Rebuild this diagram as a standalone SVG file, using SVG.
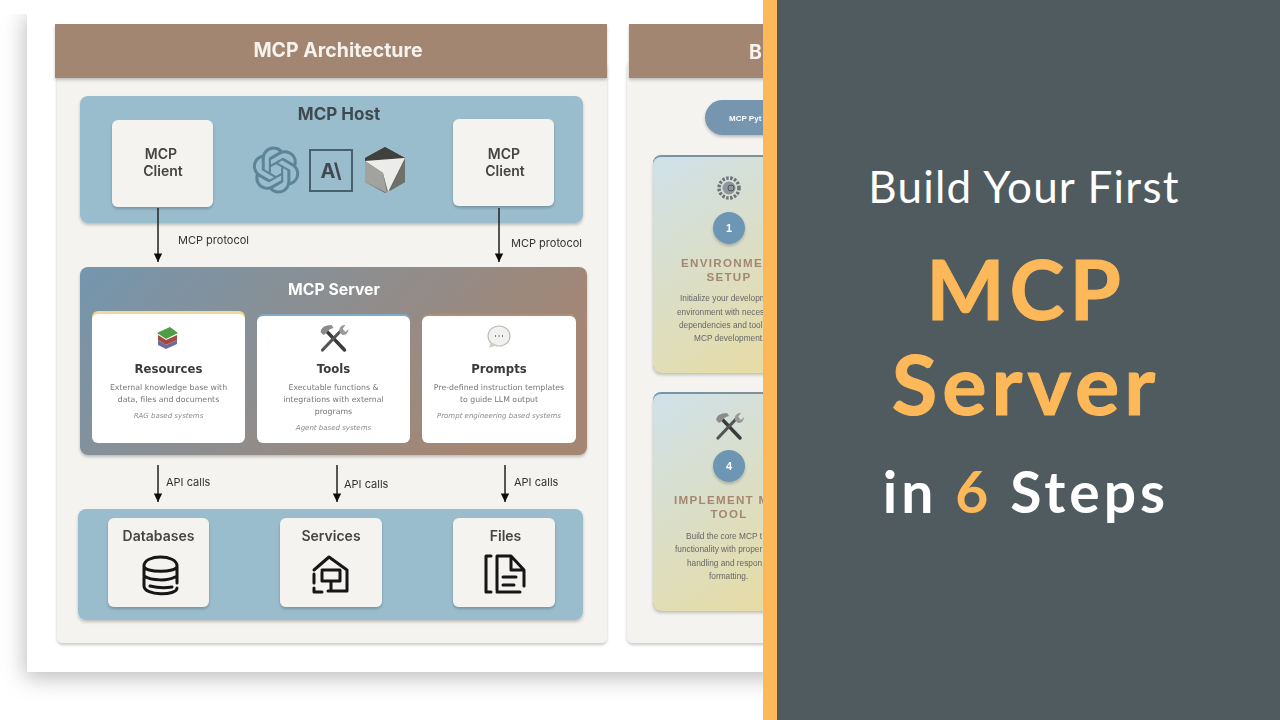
<svg xmlns="http://www.w3.org/2000/svg" width="1280" height="720" viewBox="0 0 1280 720">
<style>
text{font-family:"Inter","Liberation Sans",sans-serif;text-anchor:middle}
.hd{font-size:19.500px;font-weight:700;fill:#f6f3ef}
.box{fill:#f4f3f0;filter:url(#sh)}
.nt{font-size:14px;font-weight:600;fill:#444}
.lb{font-size:11px;fill:#333;text-anchor:start}
.ct{font-family:"DejaVu Sans",sans-serif;font-size:11.700px;font-weight:700;fill:#3a3a3a}
.cd{font-family:"DejaVu Sans",sans-serif;font-size:7.800px;fill:#777}
.ci{font-family:"DejaVu Sans",sans-serif;font-size:7px;font-style:italic;fill:#8a8a8a}
.con{stroke:#222;stroke-width:1.500;fill:none;marker-end:url(#ah)}
.ic{fill:none;stroke:#151515;stroke-width:3;stroke-linecap:round;stroke-linejoin:round}
.st{font-family:"Liberation Sans",sans-serif;font-size:11.600px;font-weight:700;fill:#a58672;letter-spacing:1.300px}
.sd{font-family:"Liberation Sans",sans-serif;font-size:8.300px;fill:#666;text-anchor:start}
.sn{font-family:"Liberation Sans",sans-serif;font-size:11px;font-weight:700;fill:#fff}
.big{font-family:"Lato",sans-serif;font-weight:700;fill:#fdb959;stroke:#fdb959;stroke-width:1;font-size:83px;letter-spacing:5px}
</style>
<defs>
<marker id="ah" viewBox="0 0 10 10" refX="9" refY="5" markerWidth="7" markerHeight="7" orient="auto"><path d="M1 1L9 5L1 9Z" fill="#111"/></marker>
<filter id="sh" x="-10%" y="-10%" width="120%" height="125%"><feDropShadow dx="0" dy="2" stdDeviation="1.600" flood-color="#000" flood-opacity="0.22"/></filter>
<filter id="page" filterUnits="userSpaceOnUse" x="0" y="0" width="830" height="720"><feDropShadow dx="-2" dy="6" stdDeviation="11" flood-color="#000" flood-opacity="0.26"/></filter>
<filter id="soft" filterUnits="userSpaceOnUse" x="0" y="0" width="800" height="720"><feGaussianBlur stdDeviation="0.500"/></filter>
<clipPath id="pgc"><rect x="0" y="14" width="800" height="706"/></clipPath>
<linearGradient id="srv" x1="0" y1="0" x2="1" y2="0.35"><stop offset="0" stop-color="#7496ae"/><stop offset="1" stop-color="#a58672"/></linearGradient>
<linearGradient id="stp" x1="0" y1="0" x2="0.55" y2="1"><stop offset="0" stop-color="#cfe1ea"/><stop offset="1" stop-color="#e6dca6"/></linearGradient>
<linearGradient id="bar" x1="0" y1="0" x2="1" y2="0"><stop offset="0" stop-color="#7496ae"/><stop offset="1" stop-color="#8d8d80"/></linearGradient>
<g id="tools">
<path d="M-9 -9L11 12" stroke="#3a3a3a" stroke-width="3.400" stroke-linecap="round"/>
<path d="M8 -8L-11 12" stroke="#555" stroke-width="3.200" stroke-linecap="round"/>
<path d="M-13 -6Q-12 -13 -2 -13L0 -10Q-5 -9 -7 -5L-10 -3Z" fill="#8b8b8b"/>
<path d="M6 -6A5.500 5.500 0 0 1 12 -13L9 -9L12 -6L15 -9A5.500 5.500 0 0 1 9 -3Z" fill="#999"/>
</g>
</defs>
<rect width="1280" height="720" fill="#fff"/>
<g filter="url(#soft)">
<g clip-path="url(#pgc)"><rect x="27" y="10" width="760" height="662" fill="#fff" filter="url(#page)"/></g>

<g id="arch-panel">
<rect class="box" x="57" y="60" width="550" height="583" rx="6"/>
<rect x="55" y="24" width="552" height="54" fill="#a38671" filter="url(#sh)"/>
<text class="hd" x="338" y="57">MCP Architecture</text>
</g>

<g id="build-panel">
<rect class="box" x="627" y="60" width="200" height="583" rx="6"/>
<rect x="629" y="24" width="180" height="54" fill="#a38671" filter="url(#sh)"/>
<text class="hd" x="749" y="59" style="text-anchor:start">B</text>
</g>

<g id="mcp-host">
<rect x="80" y="96" width="503" height="127" rx="8" fill="#9abdcd" filter="url(#sh)"/>
<text x="339" y="120" style="font-size:17px;font-weight:700;fill:#3f4a50">MCP Host</text>
</g>
<g id="client-1">
<rect class="box" x="112" y="120" width="101" height="87" rx="6"/>
<text class="nt" x="161" y="159">MCP</text><text class="nt" x="163" y="176">Client</text>
</g>
<g id="client-2">
<rect class="box" x="453" y="119" width="101" height="87" rx="6"/>
<text class="nt" x="504" y="159">MCP</text><text class="nt" x="505" y="176">Client</text>
</g>
<g id="logo-openai">
<path transform="translate(252.500 146.500) scale(1.960)" fill="#5b8698" d="M22.2819 9.8211a5.9847 5.9847 0 0 0-.5157-4.9108 6.0462 6.0462 0 0 0-6.5098-2.9A6.0651 6.0651 0 0 0 4.9807 4.1818a5.9847 5.9847 0 0 0-3.9977 2.9 6.0462 6.0462 0 0 0 .7427 7.0966 5.98 5.98 0 0 0 .511 4.9107 6.051 6.051 0 0 0 6.5146 2.9001A5.9847 5.9847 0 0 0 13.2599 24a6.0557 6.0557 0 0 0 5.7718-4.2058 5.9894 5.9894 0 0 0 3.9977-2.9001 6.0557 6.0557 0 0 0-.7475-7.0729zm-9.022 12.6081a4.4755 4.4755 0 0 1-2.8764-1.0408l.1419-.0804 4.7783-2.7582a.7948.7948 0 0 0 .3927-.6813v-6.7369l2.02 1.1686a.071.071 0 0 1 .038.052v5.5826a4.504 4.504 0 0 1-4.4945 4.4944zm-9.6607-4.1254a4.4708 4.4708 0 0 1-.5346-3.0137l.142.0852 4.783 2.7582a.7712.7712 0 0 0 .7806 0l5.8428-3.3685v2.3324a.0804.0804 0 0 1-.0332.0615L9.74 19.9502a4.4992 4.4992 0 0 1-6.1408-1.6464zM2.3408 7.8956a4.485 4.485 0 0 1 2.3655-1.9728V11.6a.7664.7664 0 0 0 .3879.6765l5.8144 3.3543-2.0201 1.1685a.0757.0757 0 0 1-.071 0l-4.8303-2.7865A4.504 4.504 0 0 1 2.3408 7.872zm16.5963 3.8558L13.1038 8.364 15.1192 7.2a.0757.0757 0 0 1 .071 0l4.8303 2.7913a4.4944 4.4944 0 0 1-.6765 8.1042v-5.6772a.79.79 0 0 0-.407-.667zm2.0107-3.0231l-.142-.0852-4.7735-2.7818a.7759.7759 0 0 0-.7854 0L9.409 9.2297V6.8974a.0662.0662 0 0 1 .0284-.0615l4.8303-2.7866a4.4992 4.4992 0 0 1 6.6802 4.66zM8.3065 12.863l-2.02-1.1638a.0804.0804 0 0 1-.038-.0567V6.0742a4.4992 4.4992 0 0 1 7.3757-3.4537l-.142.0805L8.704 5.459a.7948.7948 0 0 0-.3927.6813zm1.0976-2.3654l2.602-1.4998 2.6069 1.4998v2.9994l-2.5974 1.4997-2.6067-1.4997Z"/>
</g>
<g id="logo-anthropic">
<rect x="310" y="150" width="42" height="41" fill="none" stroke="#46606e" stroke-width="2"/>
<text x="331" y="178" style="font-size:20px;font-weight:700;fill:#3f4a50">A\</text>
</g>
<g id="logo-cube">
<polygon points="385,147 405,158 405,182 385,193 365,182 365,158" fill="#6a6a68"/>
<polygon points="385,147 405,158 365,161 365,158" fill="#3f3f3d"/>
<polygon points="365,161 405,158 388,192 383,173" fill="#ececea"/>
<polygon points="365,161 383,173 387,193 365,182" fill="#a2a29e"/>
<polygon points="405,160 405,182 390,191" fill="#6f6f6b"/>
</g>

<g id="connectors">
<path class="con" d="M158 208V262"/>
<path class="con" d="M499 208V262"/>
<path class="con" d="M158 465V502"/>
<path class="con" d="M337 465V502"/>
<path class="con" d="M505 465V502"/>
<text class="lb" x="178" y="244">MCP protocol</text>
<text class="lb" x="511" y="247">MCP protocol</text>
<text class="lb" x="166" y="486">API calls</text>
<text class="lb" x="344" y="488">API calls</text>
<text class="lb" x="514" y="486">API calls</text>
</g>

<g id="mcp-server">
<rect x="80" y="267" width="507" height="188" rx="8" fill="url(#srv)" filter="url(#sh)"/>
<text x="334" y="295" style="font-size:15.800px;font-weight:700;fill:#fff">MCP Server</text>
</g>
<g id="resources">
<rect x="92" y="311" width="153" height="40" rx="6" fill="#f0d997"/>
<rect x="92" y="314" width="153" height="129" rx="6" fill="#fff"/>
<polygon points="157,333 170,327 178,333 166,339" fill="#4f9e46"/>
<path d="M158 335L166 340L177 335V340L166 345L158 340Z" fill="#a6463f"/>
<path d="M158 340L166 345L177 340V344L166 349L158 345Z" fill="#6c6c9c"/>
<text class="ct" x="168.500" y="373">Resources</text>
<text class="cd" x="168.500" y="390">External knowledge base with</text>
<text class="cd" x="168.500" y="402">data, files and documents</text>
<text class="ci" x="168.500" y="418">RAG based systems</text>
</g>
<g id="tools-card">
<rect x="257" y="314" width="153" height="40" rx="6" fill="#7fa9c6"/>
<rect x="257" y="316" width="153" height="127" rx="6" fill="#fff"/>
<use href="#tools" transform="translate(333.500 338)"/>
<text class="ct" x="333.500" y="373">Tools</text>
<text class="cd" x="333.500" y="390">Executable functions &amp;</text>
<text class="cd" x="333.500" y="402">integrations with external</text>
<text class="cd" x="333.500" y="414">programs</text>
<text class="ci" x="333.500" y="430">Agent based systems</text>
</g>
<g id="prompts">
<rect x="422" y="314" width="154" height="40" rx="6" fill="#b08f79"/>
<rect x="422" y="316" width="154" height="127" rx="6" fill="#fff"/>
<ellipse cx="499" cy="336" rx="11" ry="10" fill="#f1f1ef" stroke="#bdbdb8" stroke-width="1.200"/>
<path d="M491 342L489 348L497 345Z" fill="#cfcfca"/>
<path d="M495 336h1M498.500 336h1M502 336h1" stroke="#555" stroke-width="1.400"/>
<text class="ct" x="499" y="373">Prompts</text>
<text class="cd" x="499" y="390">Pre-defined instruction templates</text>
<text class="cd" x="499" y="402">to guide LLM output</text>
<text class="ci" x="499" y="418">Prompt engineering based systems</text>
</g>

<g id="data-layer">
<rect x="78" y="509" width="505" height="111" rx="8" fill="#9abdcd" filter="url(#sh)"/>
</g>
<g id="databases">
<rect class="box" x="108" y="518" width="101" height="89" rx="6"/>
<text class="nt" x="158.500" y="541">Databases</text>
<path class="ic" d="M144 566C144 554 177 554 177 566C177 573 144 573 144 566M144 566V586C144 596 177 596 177 588M177 566V583M144 576C152 581 168 581 175 577M150 586C158 588 166 588 172 587"/>
</g>
<g id="services">
<rect class="box" x="280" y="518" width="102" height="89" rx="6"/>
<text class="nt" x="331" y="541">Services</text>
<path class="ic" d="M314 570L329 557L347 570V591H328M314 574V583M314 588V592H322M322 570H340V581H322V572M331 581V590"/>
</g>
<g id="files">
<rect class="box" x="453" y="518" width="102" height="89" rx="6"/>
<text class="nt" x="505.500" y="541">Files</text>
<path class="ic" d="M491 556H486V592H491M497 590V556H511L524 570V586M497 592H520M511 556V570H524M503 577H516M503 585H514"/>
</g>

<g id="pill">
<rect x="705" y="100" width="120" height="35" rx="17.500" fill="#7496ae" filter="url(#sh)"/>
<text x="729" y="121" style="font-family:'Liberation Sans',sans-serif;font-size:8px;font-weight:700;fill:#fff;text-anchor:start">MCP Pyt</text>
</g>
<g id="step-1">
<rect x="653" y="155" width="180" height="218" rx="8" fill="url(#bar)"/>
<rect x="653" y="157" width="180" height="216" rx="8" fill="url(#stp)" filter="url(#sh)"/>
<circle cx="729" cy="188" r="10" fill="none" stroke="#6d7478" stroke-width="3.500" stroke-dasharray="2.500 1.500"/>
<circle cx="729" cy="188" r="6.500" fill="#8d979c"/><circle cx="731" cy="188" r="3" fill="none" stroke="#4d5559"/>
<circle cx="729" cy="228" r="16" fill="#6d96b4" filter="url(#sh)"/>
<text class="sn" x="729" y="232">1</text>
<text class="st" x="681" y="267" style="text-anchor:start">ENVIRONMEN</text>
<text class="st" x="729" y="281">SETUP</text>
<text class="sd" x="680" y="301">Initialize your developm</text>
<text class="sd" x="677" y="315">environment with neces</text>
<text class="sd" x="679" y="328">dependencies and tool</text>
<text class="sd" x="694" y="341">MCP development.</text>
</g>
<g id="step-4">
<rect x="653" y="392" width="180" height="219" rx="8" fill="url(#bar)"/>
<rect x="653" y="394" width="180" height="217" rx="8" fill="url(#stp)" filter="url(#sh)"/>
<use href="#tools" transform="translate(729 426)"/>
<circle cx="729" cy="466" r="16" fill="#6d96b4" filter="url(#sh)"/>
<text class="sn" x="729" y="470">4</text>
<text class="st" x="674" y="504" style="text-anchor:start">IMPLEMENT M</text>
<text class="st" x="729" y="518">TOOL</text>
<text class="sd" x="686" y="539">Build the core MCP t</text>
<text class="sd" x="675" y="552">functionality with proper</text>
<text class="sd" x="687" y="566">handling and respon</text>
<text class="sd" x="709" y="579">formatting.</text>
</g>
</g>

<g id="title-panel">
<rect x="763" y="0" width="14" height="720" fill="#fdb959"/>
<rect x="777" y="0" width="503" height="720" fill="#505b60"/>
<text x="1024" y="203" style="font-family:'Lato',sans-serif;font-size:44px;fill:#fff;letter-spacing:1.200px">Build Your First</text>
<text class="big" x="1026" y="320">MCP</text>
<text class="big" x="1026" y="415">Server</text>
<text x="1026" y="513" style="font-family:'Lato',sans-serif;font-size:57px;font-weight:700;fill:#fff;letter-spacing:4px">in <tspan fill="#fdb959">6</tspan> Steps</text>
</g>
</svg>
